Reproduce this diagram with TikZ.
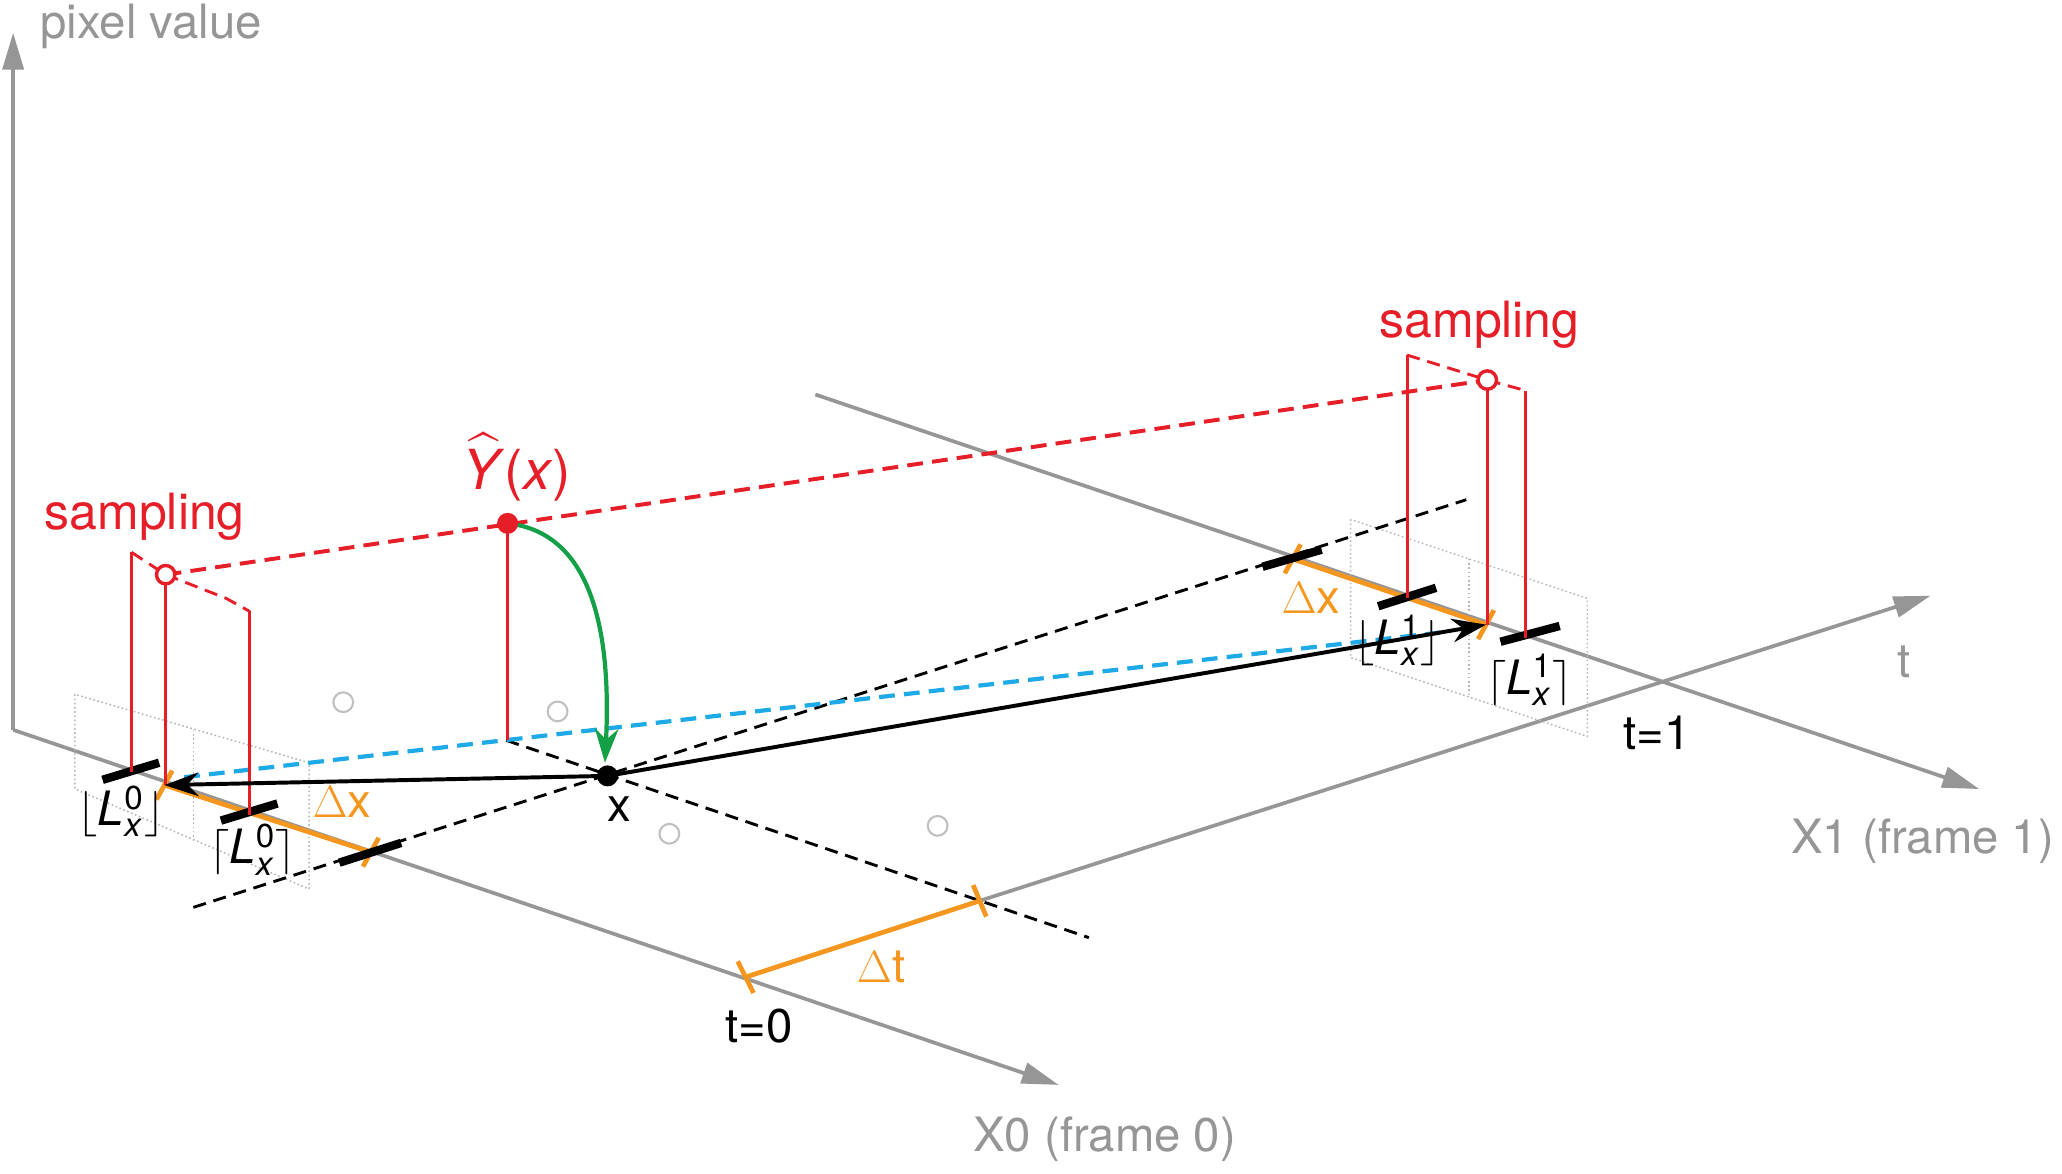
\documentclass[tikz,border=0pt]{standalone}
\usepackage{amsmath}
\usepackage{fontspec}
\setmainfont{TeX Gyre Heros}
\usetikzlibrary{arrows.meta}
\definecolor{ax}{RGB}{150,150,150}
\definecolor{rd}{RGB}{230,30,40}
\definecolor{og}{RGB}{245,150,30}
\definecolor{bl}{RGB}{30,170,230}
\definecolor{gr}{RGB}{20,160,70}
\newcommand{\myLx}[1]{\textit{L}$_{\text{\textit{x}}}^{\text{#1}}$}
\begin{document}
\begin{tikzpicture}[x=0.5pt,y=-0.5pt,
  axis/.style={ax,line width=1.4pt,-{Triangle[length=14pt,width=8pt]}},
  axl/.style={ax,font=\fontsize{18}{21}\selectfont},
  lab/.style={font=\fontsize{18}{21}\selectfont},
  org/.style={og,line width=1.8pt},
  tk/.style={og,line width=1.8pt},
  mk/.style={black,line width=3.2pt},
  rl/.style={rd,line width=1.1pt},
  rdash/.style={rd,line width=1.1pt,dash pattern=on 5pt off 3pt},
  dbox/.style={ax!70,densely dotted,line width=0.6pt},
  blk/.style={black,line width=1.5pt,-{Stealth[length=13pt,width=9pt]}}]
\useasboundingbox (0,0) rectangle (1568,892);
% axes
\coordinate (O) at (10,555);
\coordinate (PV) at (10,25);
\coordinate (X0e) at (805,825);
\coordinate (X1s) at (620,300);
\coordinate (X1e) at (1505,600);
\coordinate (T0) at (745,685);
\coordinate (Te) at (1468,453);
\draw[axis] (O) -- (PV);
\draw[axis] (O) -- (X0e);
\draw[axis] (X1s) -- (X1e);
\draw[axis] (T0) -- (Te);
\node[axl] (lpv) at (115,20) {pixel value};
\node[axl] (lx0) at (840,866) {X0 (frame 0)};
\node[axl] (lx1) at (1462,640) {X1 (frame 1)};
\node[axl] (lt) at (1448,503) {t};
% dotted boxes
\draw[dbox] (57,528) -- (57,600) -- (235,676) -- (235,580) -- cycle;
\draw[dbox] (147,555) -- (147,640);
\draw[dbox] (1027,395) -- (1027,500) -- (1207,560) -- (1207,455) -- cycle;
\draw[dbox] (1117,425) -- (1117,530);
% dashed lines through x
\coordinate (x) at (462,590);
\coordinate (d1a) at (147,690);
\coordinate (d1b) at (1115,380);
\coordinate (d2a) at (385,563);
\coordinate (d2b) at (828,713);
\draw[black,line width=1.1pt,dash pattern=on 5pt off 3pt] (d1a) -- (d1b);
\draw[black,line width=1.1pt,dash pattern=on 5pt off 3pt] (d2a) -- (d2b);
% gray circles
\foreach \p in {(261,534),(424,541),(509,634),(713,628)}
  \draw[ax!60,line width=0.8pt] \p circle (7.5);
% blue dashed
\coordinate (b0) at (140,591);
\coordinate (b1) at (1095,481);
\draw[bl,line width=1.6pt,dash pattern=on 6pt off 3.5pt] (b0) -- (b1);
% orange segments
\coordinate (o0a) at (125,597); \coordinate (o0b) at (282,648);
\draw[org] (o0a) -- (o0b);
\draw[tk] (119,608) -- (131,586); \draw[tk] (276,659) -- (288,637);
\coordinate (o1a) at (983,425); \coordinate (o1b) at (1130,475);
\draw[org] (o1a) -- (o1b);
\draw[tk] (977,436) -- (989,414); \draw[tk] (1124,486) -- (1136,464);
\coordinate (ta) at (567,743);
\draw[org] (ta) -- (T0);
\draw[tk] (561,731) -- (573,755); \draw[tk] (740,673) -- (750,697);
\node[lab,og] (ldx0) at (260,610) {$\Delta$x};
\node[lab,og] (ldx1) at (997,455) {$\Delta$x};
\node[lab,og] (ldt) at (670,735) {$\Delta$t};
\node[lab] (lt0) at (577,780) {t=0};
\node[lab] (lt1) at (1260,557) {t=1};
% black markers
\draw[mk] (78,593) -- (121,580);
\draw[mk] (168,624) -- (211,611);
\draw[mk] (258,656) -- (305,641);
\draw[mk] (960,431) -- (1005,418);
\draw[mk] (1048,461) -- (1092,447);
\draw[mk] (1141,488) -- (1186,476);
% red verticals
\draw[rl] (100,420) -- (100,587);
\draw[rl] (126,437) -- (126,597);
\draw[rl] (190,465) -- (190,620);
\draw[rdash] (100,420) -- (126,437);
\draw[rdash] (126,437) -- (172,455) -- (190,465);
\draw[rl] (1070,270) -- (1070,455);
\draw[rl] (1131,289) -- (1131,475);
\draw[rl] (1160,297) -- (1160,485);
\draw[rdash] (1070,270) -- (1131,289) -- (1160,297);
\coordinate (Y) at (386,398);
\draw[rl] (Y) -- (386,563);
\draw[rd,line width=1.5pt,dash pattern=on 6pt off 3.5pt] (126,437) -- (1131,289);
\draw[rd,line width=1.3pt,fill=white] (126,437) circle (7);
\draw[rd,line width=1.3pt,fill=white] (1131,289) circle (7);
\node[lab,rd,font=\fontsize{19}{22}\selectfont] (ls0) at (110,393) {sampling};
\node[lab,rd,font=\fontsize{19}{22}\selectfont] (ls1) at (1125,247) {sampling};
\node[lab,rd,font=\fontsize{21}{24}\selectfont] (lY) at (393,355) {$\widehat{\text{\textit{Y}}}$(\textit{x})};
% black arrows
\draw[blk] (x) -- (o0a);
\draw[blk] (x) -- (o1b);
% green
\draw[gr,line width=1.6pt,-{Stealth[length=13pt,width=9pt]}] (Y) .. controls (450,405) and (465,480) .. (460,580);
\fill[rd] (Y) circle (8);
\fill[black] (x) circle (8);
\node[lab] (lx) at (471,615) {x};
% L labels
\node[lab] (fl0) at (92,617) {$\lfloor$\myLx{0}$\rfloor$};
\node[lab] (cl0) at (192,646) {$\lceil$\myLx{0}$\rceil$};
\node[lab] (fl1) at (1063,487) {$\lfloor$\myLx{1}$\rfloor$};
\node[lab] (cl1) at (1163,517) {$\lceil$\myLx{1}$\rceil$};
\end{tikzpicture}
\end{document}
